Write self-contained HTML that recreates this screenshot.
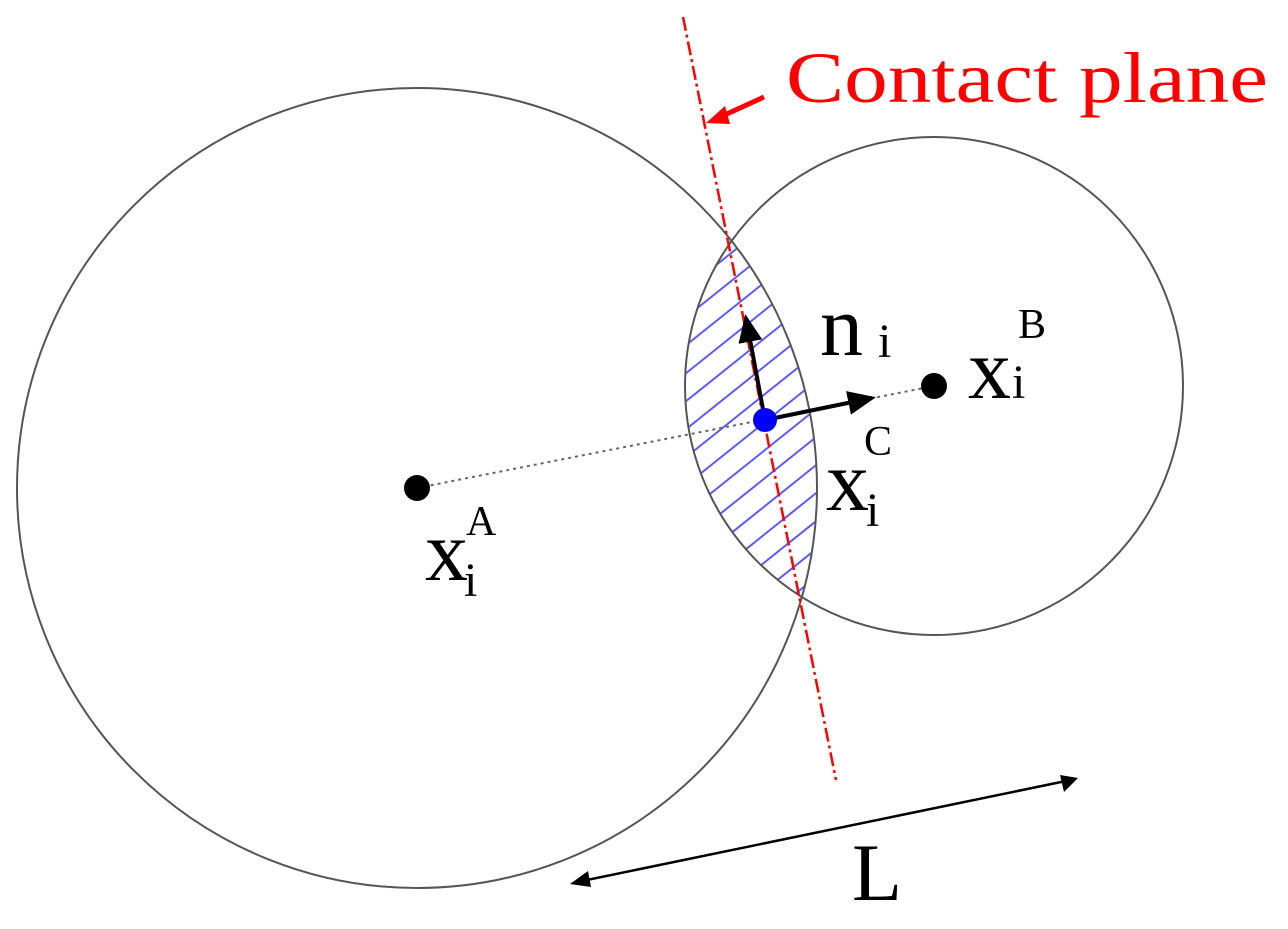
<!DOCTYPE html>
<html><head><style>body{margin:0;background:#fff}</style></head><body>
<svg width="1288" height="924" viewBox="0 0 1288 924" xmlns="http://www.w3.org/2000/svg" font-family="Liberation Serif, serif">
<defs>
<clipPath id="b"><circle cx="934" cy="386" r="249"/></clipPath>
<clipPath id="a"><circle cx="417" cy="488" r="400"/></clipPath>
<marker id="ar" markerWidth="8" markerHeight="8" refX="6" refY="4" orient="auto" markerUnits="strokeWidth"><path d="M0,1 L7,4 L0,7 z" fill="#000"/></marker>
</defs>
<g clip-path="url(#a)"><g clip-path="url(#b)" stroke="#5a5aff" stroke-width="2">
<g id="h">
<line x1="600" y1="330" x2="900" y2="90"/>
</g>
<use href="#h" y="-112"/><use href="#h" y="-84"/><use href="#h" y="-56"/><use href="#h" y="-28"/>
<use href="#h" y="28"/><use href="#h" y="56"/><use href="#h" y="84"/><use href="#h" y="112"/><use href="#h" y="140"/><use href="#h" y="168"/><use href="#h" y="196"/><use href="#h" y="224"/><use href="#h" y="252"/><use href="#h" y="280"/><use href="#h" y="308"/><use href="#h" y="336"/><use href="#h" y="364"/><use href="#h" y="392"/><use href="#h" y="420"/><use href="#h" y="448"/><use href="#h" y="476"/><use href="#h" y="504"/>
</g></g>
<circle cx="417" cy="488" r="400" fill="none" stroke="#555" stroke-width="2"/>
<circle cx="934" cy="386" r="249" fill="none" stroke="#555" stroke-width="2"/>
<line x1="417" y1="488" x2="934" y2="386" stroke="#666" stroke-width="2" stroke-dasharray="3,4"/>
<line x1="683" y1="17" x2="836" y2="780" stroke="#f00" stroke-width="2.5" stroke-dasharray="14,4,3,4"/>
<line x1="764" y1="97" x2="718" y2="118" stroke="#f00" stroke-width="5"/>
<path d="M706,123 L725,106 L730,124 z" fill="#f00"/>
<text x="786" y="102" font-size="72" fill="#f00" textLength="482" lengthAdjust="spacingAndGlyphs">Contact plane</text>
<line x1="765" y1="420" x2="746" y2="318" stroke="#000" stroke-width="4" marker-end="url(#ar)"/>
<line x1="765" y1="420" x2="872" y2="398" stroke="#000" stroke-width="4" marker-end="url(#ar)"/>
<circle cx="765" cy="420" r="12" fill="#00f"/>
<circle cx="417" cy="488" r="13" fill="#000"/>
<circle cx="934" cy="386" r="13" fill="#000"/>
<line x1="582" y1="881" x2="1066" y2="781" stroke="#000" stroke-width="2.5"/>
<path d="M570,884 L588,871 L591,887 z" fill="#000"/>
<path d="M1078,778 L1060,775 L1064,792 z" fill="#000"/>
<text x="820" y="355" font-size="86">n</text><text x="878" y="357" font-size="48">i</text>
<text x="968" y="398" font-size="86">x</text><text x="1012" y="398" font-size="48">i</text><text x="1018" y="338" font-size="42">B</text>
<text x="826" y="510" font-size="86">x</text><text x="866" y="526" font-size="48">i</text><text x="864" y="455" font-size="42">C</text>
<text x="425" y="580" font-size="86">x</text><text x="464" y="596" font-size="48">i</text><text x="466" y="535" font-size="42">A</text>
<text x="852" y="900" font-size="82">L</text>
</svg>
</body></html>
